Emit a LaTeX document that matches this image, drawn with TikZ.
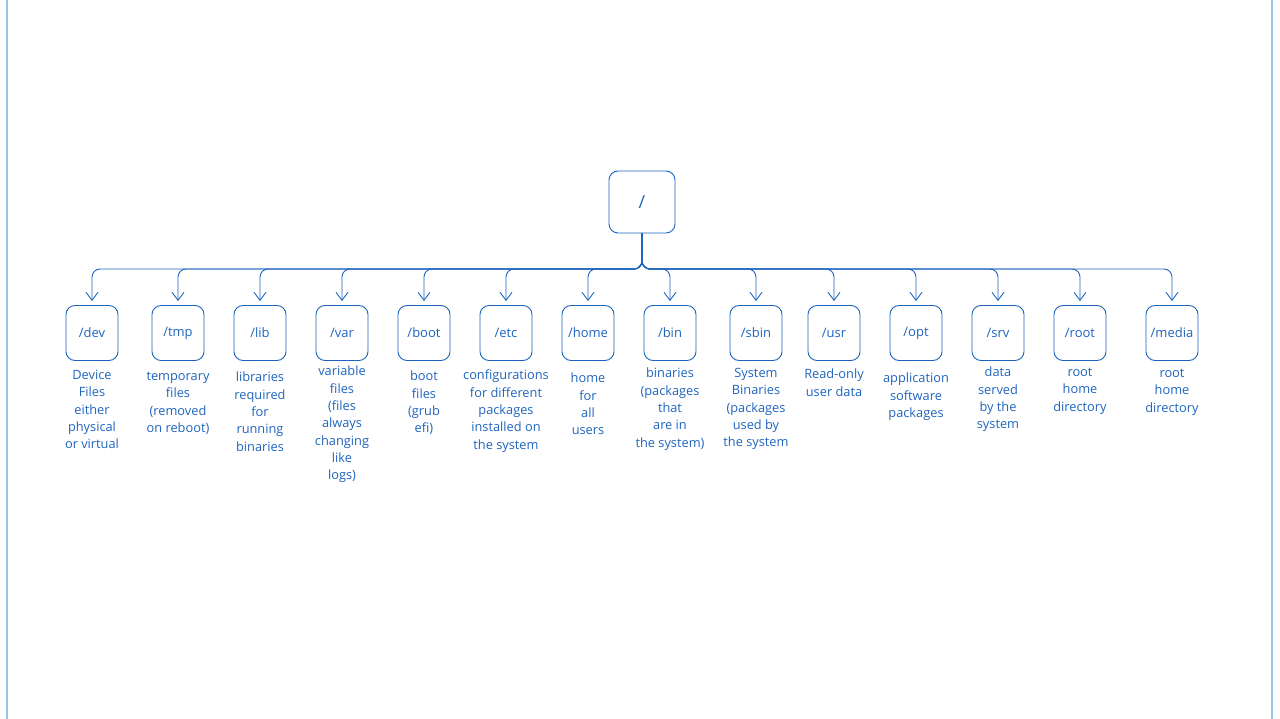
\documentclass[tikz,border=0pt]{standalone}
\usepackage{fontspec}
\setmainfont{Open Sans}
\usetikzlibrary{arrows.meta}
\definecolor{ink}{RGB}{30,100,190}
\definecolor{edge}{RGB}{150,195,240}
\begin{document}
\begin{tikzpicture}[x=1pt,y=-1pt,
  box/.style={draw=ink,line width=0.9pt,rounded corners=9pt,minimum width=52pt,minimum height=55pt,text=ink,font=\fontsize{13}{15}\selectfont},
  lab/.style={text=ink,align=center,anchor=north,font=\fontsize{12.8}{17.3}\selectfont,inner sep=0pt},
  link/.style={draw=ink,line width=0.9pt,rounded corners=8pt,-{Straight Barb[length=8pt,width=12pt]},shorten >=4pt}]
\useasboundingbox (0,0) rectangle (1280,719);
\draw[edge,line width=1.2pt] (7,0) -- (7,719);
\draw[edge,line width=1.2pt] (1272,0) -- (1272,719);
\node[box,minimum width=66pt,minimum height=62pt,font=\fontsize{18}{20}\selectfont] (root) at (642,202) {/};
\foreach \n/\x/\t/\ly in {
 dev/92/{Device\\Files\\either\\physical\\or virtual}/370,
 tmp/178/{temporary\\files\\(removed\\on reboot)}/372,
 lib/260/{libraries\\required\\for\\running\\binaries}/372,
 var/342/{variable\\files\\(files\\always\\changing\\like\\logs)}/366,
 boot/424/{boot\\files\\(grub\\efi)}/371,
 etc/506/{configurations\\for different\\packages\\installed on\\the system}/370,
 home/588/{home\\for\\all\\users}/373,
 bin/670/{binaries\\(packages\\that\\are in\\the system)}/368,
 sbin/756/{System\\Binaries\\(packages\\used by\\the system}/368,
 usr/834/{Read-only\\user data}/369,
 opt/916/{application\\software\\packages}/373,
 srv/998/{data\\served\\by the\\system}/367,
 root/1080/{root\\home\\directory}/368,
 media/1172/{root\\home\\directory}/369}{
  \node[box] (b\n) at (\x,333) {/\n};
  \node[lab] (l\n) at (\x,\ly) {\t};
  \draw[link] (root.south) -- (root.south |- 0,269) -| (b\n.north);
}
\end{tikzpicture}
\end{document}
